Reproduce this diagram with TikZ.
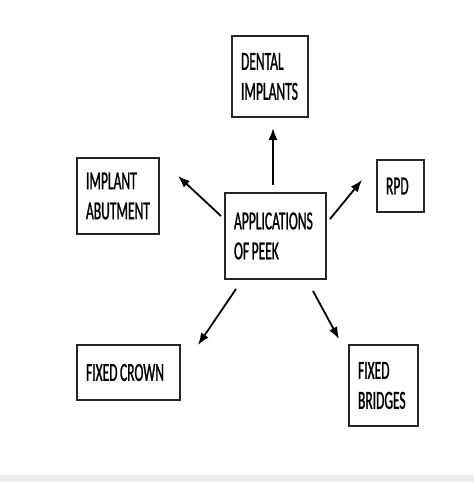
\documentclass[tikz,border=0pt]{standalone}
\usepackage{fontspec}
\newfontfamily\boxfont[FakeStretch=0.52, FakeBold=1]{Carlito}
\usetikzlibrary{arrows.meta}
\tikzset{
    appbox/.style={draw=black!85, line width=1.1pt, inner xsep=9pt, inner ysep=0pt,
        align=flush left, font={\boxfont\fontsize{26}{30}\selectfont\spaceskip=2.5pt}},
    apparrow/.style={-{Latex[length=12pt,width=9pt]}, line width=1.8pt}
}
\begin{document}
\begin{tikzpicture}[x=1pt, y=-1pt]
    
    % Cornice
    \useasboundingbox (0,0) rectangle (474,482);
    \fill[black!7] (0,475) rectangle (474,482);
    
    % Riquadri
    \node[appbox, text width=83pt, minimum height=86pt] (peek) at (275.5,236) {APPLICATIONS\\OF PEEK};
    \node[appbox, text width=58pt, minimum height=81pt] (dental) at (270,76.5) {DENTAL\\IMPLANTS};
    \node[appbox, text width=64pt, minimum height=76pt] (abutment) at (118,196) {IMPLANT\\ABUTMENT};
    \node[appbox, text width=29pt, minimum height=52pt] (rpd) at (400.5,186) {RPD};
    \node[appbox, text width=85pt, minimum height=55pt] (crown) at (128.5,372.5) {FIXED CROWN};
    \node[appbox, text width=51pt, minimum height=81pt] (bridges) at (383.5,385.5) {FIXED\\BRIDGES};
    
    % Estremi delle frecce
    \coordinate (up-a) at (273,185);  \coordinate (up-b) at (273,128);
    \coordinate (lt-a) at (221,216);  \coordinate (lt-b) at (178,176);
    \coordinate (rt-a) at (330,219);  \coordinate (rt-b) at (362,180);
    \coordinate (dl-a) at (236,289);  \coordinate (dl-b) at (198,345);
    \coordinate (dr-a) at (313,291);  \coordinate (dr-b) at (339,339);
    
    % Frecce
    \draw[apparrow] (up-a) -- (up-b);
    \draw[apparrow] (lt-a) -- (lt-b);
    \draw[apparrow] (rt-a) -- (rt-b);
    \draw[apparrow] (dl-a) -- (dl-b);
    \draw[apparrow] (dr-a) -- (dr-b);
    
\end{tikzpicture}
\end{document}
